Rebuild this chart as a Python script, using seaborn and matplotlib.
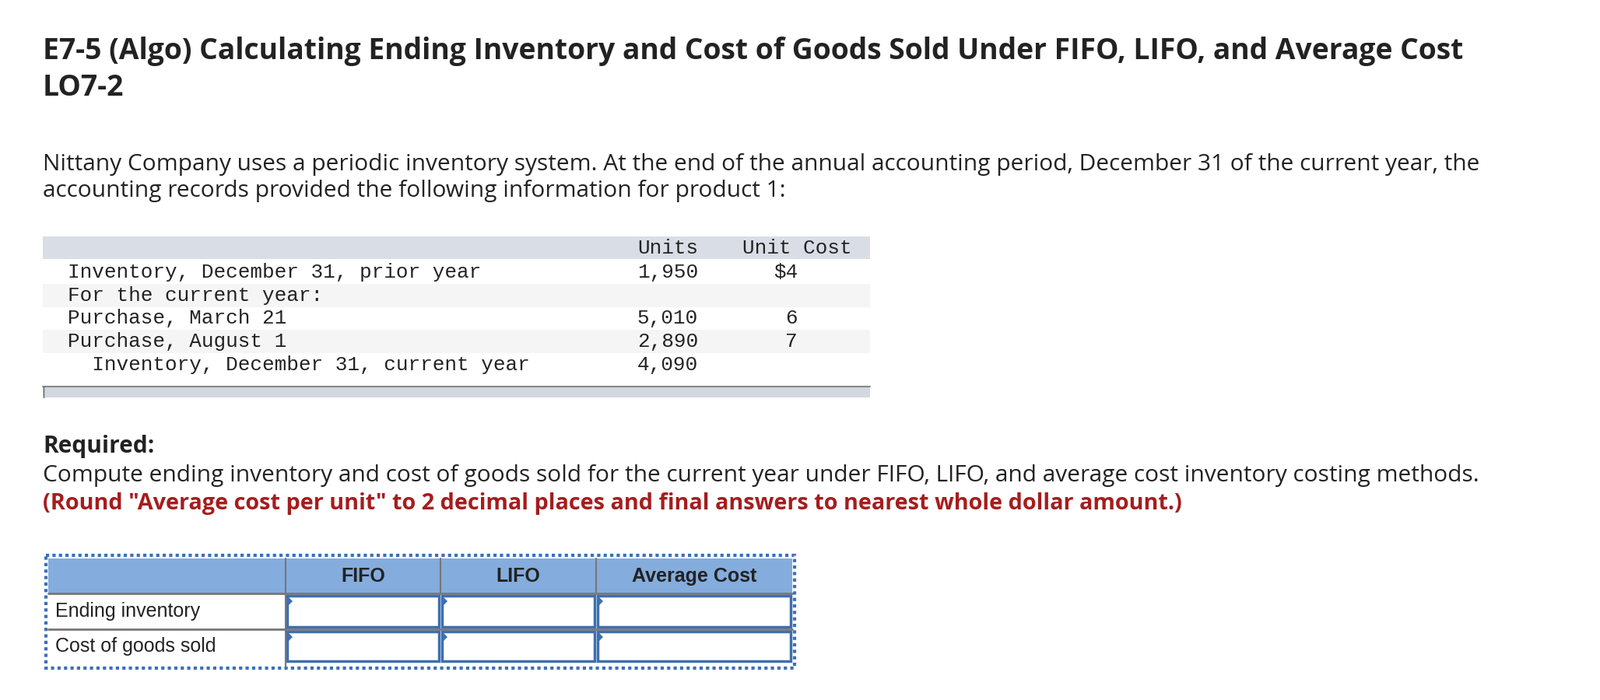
import matplotlib
matplotlib.use("Agg")
import matplotlib.pyplot as plt
import matplotlib.patches as mp
import seaborn as sns

sns.set_style("white")

title_lines = ["E7-5 (Algo) Calculating Ending Inventory and Cost of Goods Sold Under FIFO, LIFO, and Average Cost", "LO7-2"]
para_lines = ["Nittany Company uses a periodic inventory system. At the end of the annual accounting period, December 31 of the current year, the",
              "accounting records provided the following information for product 1:"]
row_labels = ["Inventory, December 31, prior year", "For the current year:", "Purchase, March 21",
              "Purchase, August 1", "  Inventory, December 31, current year"]
units = ["1,950", "", "5,010", "2,890", "4,090"]
unit_costs = ["$4", "", "6", "7", ""]
methods = ["FIFO", "LIFO", "Average Cost"]
answer_rows = ["Ending inventory", "Cost of goods sold"]

fig = plt.figure(figsize=(20.56, 9), dpi=100)
ax = fig.add_axes([0, 0, 1, 1])
ax.set_xlim(0, 2056); ax.set_ylim(900, 0); ax.axis("off")

sans = "Liberation Sans"; mono = "Liberation Mono"; body = "Open Sans"
for i, t in enumerate(title_lines):
    ax.text(55, 66 + 47 * i, t, fontsize=26.8, fontweight="bold", family=body, color="#222", va="center")
for i, t in enumerate(para_lines):
    ax.text(55, 211 + 35 * i, t, fontsize=21.5, family=body, color="#222", va="center")

# table 1
ax.add_patch(mp.Rectangle((55, 304), 1063, 29, color="#d9dde6", lw=0))
MS = 18.7
ax.text(897, 319, "Units", family=mono, fontsize=MS, ha="right", va="center", color="#222")
ax.text(1095, 319, "Unit Cost", family=mono, fontsize=MS, ha="right", va="center", color="#222")
row_y = [350, 380, 409, 439, 469]
for i, (lab, u, c) in enumerate(zip(row_labels, units, unit_costs)):
    if i in (1, 3):
        ax.add_patch(mp.Rectangle((55, row_y[i] - 15), 1063, 30, color="#f5f5f5", lw=0))
    ax.text(87, row_y[i], lab, family=mono, fontsize=MS, va="center", color="#222")
    ax.text(897, row_y[i], u, family=mono, fontsize=MS, ha="right", va="center", color="#222")
    ax.text(1025, row_y[i], c, family=mono, fontsize=MS, ha="right", va="center", color="#222")
ax.add_patch(mp.Rectangle((55, 497), 1063, 14, color="#d2d7e0", lw=0))
ax.plot([55, 1118], [497, 497], color="#888", lw=1.5)
ax.plot([56, 56], [497, 511], color="#666", lw=1)

# required
ax.text(55, 574, "Required:", fontsize=21.5, fontweight="bold", family=body, color="#222", va="center")
ax.text(55, 611, "Compute ending inventory and cost of goods sold for the current year under FIFO, LIFO, and average cost inventory costing methods.",
        fontsize=21.5, family=body, color="#222", va="center")
ax.text(55, 648, "(Round \"Average cost per unit\" to 2 decimal places and final answers to nearest whole dollar amount.)",
        fontsize=20.8, fontweight="bold", family=body, color="#a51d1d", va="center")

# table 2
L, R, T, B = 59, 1021, 714, 859
ax.add_patch(mp.Rectangle((L, T), R - L, B - T, fill=False, ec="#3d6fb5", lw=3, ls=(0, (1, 1))))
cols = [L + 3, 367, 566, 766, R - 3]
hT, hB = 718, 763
ax.add_patch(mp.Rectangle((cols[0], hT), cols[-1] - cols[0], hB - hT, color="#84acdd", lw=0))
for x in cols[1:-1]:
    ax.plot([x, x], [hT, hB], color="#777", lw=1.5)
for j, m in enumerate(methods):
    ax.text((cols[j + 1] + cols[j + 2]) / 2, 741, m, family=sans, fontsize=18, fontweight="bold",
            ha="center", va="center", color="#222")
ry = [(763, 809), (809, 853)]
for i, lab in enumerate(answer_rows):
    t, b = ry[i]
    ax.plot([cols[0], cols[-1]], [t, t], color="#777", lw=2)
    ax.text(71, (t + b) / 2, lab, family=sans, fontsize=18, va="center", color="#222")
    for j in range(3):
        x0, x1 = cols[j + 1] + 2, cols[j + 2] - 2
        ax.add_patch(mp.Rectangle((x0, t + 3), x1 - x0, b - t - 6, fc="white", ec="#3e6fb0", lw=2.5))
        ax.add_patch(mp.Polygon([(x0, t + 3), (x0 + 7, t + 10), (x0, t + 17)], color="#3e6fb0", lw=0))
ax.plot([cols[1], cols[1]], [hB, B - 2], color="#777", lw=1.5)

fig.savefig("out.png", dpi=100, facecolor="white")
